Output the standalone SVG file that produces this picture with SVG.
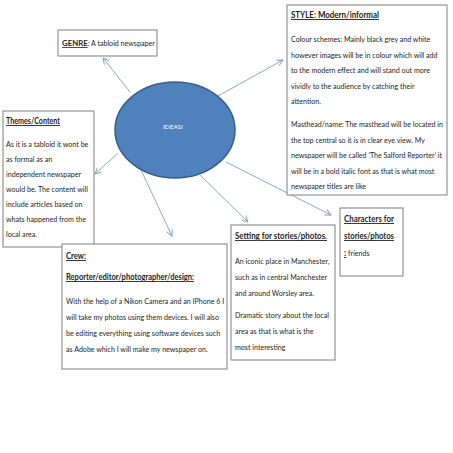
<svg xmlns="http://www.w3.org/2000/svg" width="453" height="453" viewBox="0 0 453 453">
<style>
text{font-family:Lato,"Liberation Sans",sans-serif;fill:#1e1e1e}
.t{font-size:8.8px;font-weight:bold;text-decoration:underline}
.b{font-size:7.1px}
.box{fill:#fff;stroke:#7f7f7f;stroke-width:1}
.c{stroke:#7d9dc9;stroke-width:0.9;fill:none;marker-end:url(#ah)}
</style>
<defs>
<marker id="ah" markerWidth="8" markerHeight="8" refX="7" refY="4" orient="auto" markerUnits="userSpaceOnUse">
<path d="M1,1 L7,4 L1,7" fill="none" stroke="#7d9dc9" stroke-width="0.9"/>
</marker>
</defs>
<rect width="453" height="453" fill="#fff"/>
<g id="connectors">
<line class="c" x1="130" y1="92" x2="103" y2="58"/>
<line class="c" x1="218" y1="96" x2="283" y2="60"/>
<line class="c" x1="118" y1="153" x2="95" y2="174"/>
<line class="c" x1="141" y1="170" x2="172" y2="236"/>
<line class="c" x1="200" y1="175" x2="248" y2="222"/>
<line class="c" x1="226" y1="162" x2="331" y2="215"/>
</g>
<g id="ideas">
<ellipse cx="175" cy="130" rx="60" ry="48" fill="#4f81bd" stroke="#385d8a" stroke-width="1.5"/>
<text x="173" y="129" text-anchor="middle" style="fill:#fff;font-size:6.5px">IDEAS!</text>
</g>
<g id="genre">
<rect class="box" x="58" y="30" width="99" height="26"/>
<text x="62" y="46"><tspan class="t" style="font-size:7.8px">GENRE</tspan><tspan class="b">: A tabloid newspaper</tspan></text>
</g>
<g id="style">
<rect class="box" x="287" y="5" width="160" height="190"/>
<text x="291" y="18" class="t" textLength="88" lengthAdjust="spacingAndGlyphs">STYLE: Modern/informal</text>
<text class="b">
<tspan x="291" y="42">Colour schemes: Mainly black grey and white</tspan>
<tspan x="291" y="57.5">however images will be in colour which will add</tspan>
<tspan x="291" y="73">to the modern effect and will stand out more</tspan>
<tspan x="291" y="88.5">vividly to the audience by catching their</tspan>
<tspan x="291" y="104">attention.</tspan>
<tspan x="291" y="127">Masthead/name: The masthead will be located in</tspan>
<tspan x="291" y="142.5">the top central so it is in clear eye view. My</tspan>
<tspan x="291" y="158">newspaper will be called ‘The Salford Reporter’ it</tspan>
<tspan x="291" y="173.5">will be in a bold italic font as that is what most</tspan>
<tspan x="291" y="189">newspaper titles are like</tspan>
</text>
</g>
<g id="themes">
<rect class="box" x="3" y="111" width="91" height="136"/>
<text x="6" y="124" class="t" textLength="54" lengthAdjust="spacingAndGlyphs">Themes/Content</text>
<text class="b">
<tspan x="6" y="147">As it is a tabloid it wont be</tspan>
<tspan x="6" y="162">as formal as an</tspan>
<tspan x="6" y="177">independent newspaper</tspan>
<tspan x="6" y="192">would be. The content will</tspan>
<tspan x="6" y="207">include articles based on</tspan>
<tspan x="6" y="222">whats happened from the</tspan>
<tspan x="6" y="237">local area.</tspan>
</text>
</g>
<g id="crew">
<rect class="box" x="62" y="244" width="165" height="125"/>
<text x="66" y="259" class="t" textLength="20" lengthAdjust="spacingAndGlyphs">Crew:</text>
<text x="66" y="280" class="t" textLength="128" lengthAdjust="spacingAndGlyphs">Reporter/editor/photographer/design:</text>
<text class="b">
<tspan x="66" y="304">With the help of a Nikon Camera and an IPhone 6 I</tspan>
<tspan x="66" y="320">will take my photos using them devices. I will also</tspan>
<tspan x="66" y="336">be editing everything using software devices such</tspan>
<tspan x="66" y="352">as Adobe which I will make my newspaper on.</tspan>
</text>
</g>
<g id="setting">
<rect class="box" x="231" y="225" width="104" height="135"/>
<text x="235" y="239" class="t" textLength="92" lengthAdjust="spacingAndGlyphs">Setting for stories/photos.</text>
<text class="b">
<tspan x="235" y="264">An iconic place in Manchester,</tspan>
<tspan x="235" y="280">such as in central Manchester</tspan>
<tspan x="235" y="296">and around Worsley area.</tspan>
<tspan x="235" y="318">Dramatic story about the local</tspan>
<tspan x="235" y="334">area as that is what is the</tspan>
<tspan x="235" y="350">most interesting</tspan>
</text>
</g>
<g id="characters">
<rect class="box" x="340" y="208" width="63" height="68"/>
<text x="344" y="222" class="t" textLength="50" lengthAdjust="spacingAndGlyphs">Characters for</text>
<text x="344" y="239" class="t" textLength="50" lengthAdjust="spacingAndGlyphs">stories/photos</text>
<text x="344" y="256"><tspan class="t">:</tspan><tspan class="b"> friends</tspan></text>
</g>
</svg>
